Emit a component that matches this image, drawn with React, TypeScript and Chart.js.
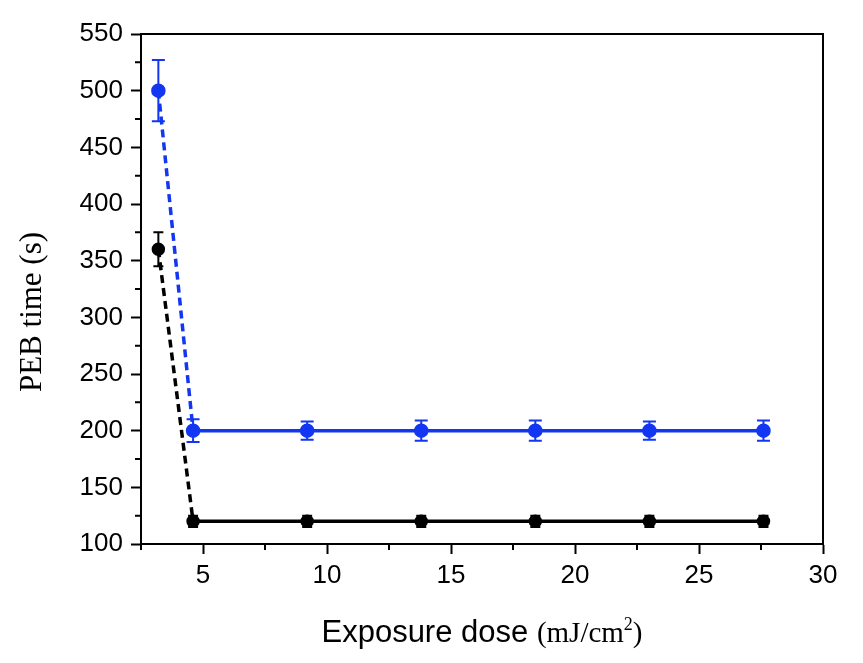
import React, { useEffect, useRef } from "react";
import { Chart, registerables } from "chart.js";

Chart.register(...registerables);

const doses = [3.2, 4.6, 9.2, 13.8, 18.4, 23.0, 27.6];
const blueTimes = [500, 200, 200, 200, 200, 200, 200];
const blueErrors = [27, 10, 8, 9, 9, 8, 9];
const blackTimes = [360, 120, 120, 120, 120, 120, 120];
const blackErrors = [15, 5, 5, 5, 5, 5, 5];
const xMajorTicks = [5, 10, 15, 20, 25, 30];
const xMinorTicks = [2.5, 7.5, 12.5, 17.5, 22.5, 27.5];
const yMajorTicks = [100, 150, 200, 250, 300, 350, 400, 450, 500, 550];
const yMinorTicks = [125, 175, 225, 275, 325, 375, 425, 475, 525];

const BLUE = "#1236F2";
const BLACK = "#000000";

const errorBarPlugin = {
  id: "errorBars",
  afterDatasetsDraw(chart: any) {
    const ctx = chart.ctx;
    const x = chart.scales.x;
    const y = chart.scales.y;
    chart.data.datasets.forEach((ds: any) => {
      const errs: number[] = ds.errors;
      ctx.save();
      ctx.strokeStyle = ds.borderColor;
      ctx.lineWidth = 2;
      ds.data.forEach((p: any, i: number) => {
        const px = x.getPixelForValue(p.x);
        const top = y.getPixelForValue(p.y + errs[i]);
        const bot = y.getPixelForValue(p.y - errs[i]);
        const cap = ds.capHalf;
        ctx.beginPath();
        ctx.moveTo(px, top);
        ctx.lineTo(px, bot);
        ctx.moveTo(px - cap, top);
        ctx.lineTo(px + cap, top);
        ctx.moveTo(px - cap, bot);
        ctx.lineTo(px + cap, bot);
        ctx.stroke();
      });
      ctx.restore();
    });
  },
};

const framePlugin = {
  id: "frameAndTitles",
  afterDraw(chart: any) {
    const ctx = chart.ctx;
    const a = chart.chartArea;
    const x = chart.scales.x;
    const y = chart.scales.y;
    ctx.save();
    ctx.strokeStyle = "#000";
    ctx.lineWidth = 2;
    ctx.beginPath();
    ctx.moveTo(a.left, a.top);
    ctx.lineTo(a.right, a.top);
    ctx.lineTo(a.right, a.bottom);
    ctx.stroke();
    // minor ticks
    ctx.beginPath();
    xMinorTicks.forEach((v) => {
      const px = x.getPixelForValue(v);
      ctx.moveTo(px, a.bottom);
      ctx.lineTo(px, a.bottom + 6);
    });
    yMinorTicks.forEach((v) => {
      const py = y.getPixelForValue(v);
      ctx.moveTo(a.left, py);
      ctx.lineTo(a.left - 6, py);
    });
    ctx.stroke();

    // Y title
    ctx.fillStyle = "#000";
    ctx.save();
    ctx.translate(33, 312);
    ctx.rotate(-Math.PI / 2);
    ctx.font = '31px "Liberation Serif"';
    ctx.textAlign = "center";
    ctx.textBaseline = "middle";
    ctx.fillText("PEB time (s)", 0, 0);
    ctx.restore();

    // X title
    const sansFont = '31px "Liberation Sans"';
    const serifFont = '29px "Liberation Serif"';
    const supFont = '18px "Liberation Serif"';
    const p1 = "Exposure dose ";
    const p2 = "(mJ/cm";
    const p3 = "2";
    const p4 = ")";
    ctx.font = sansFont;
    const w1 = ctx.measureText(p1).width;
    ctx.font = serifFont;
    const w2 = ctx.measureText(p2).width;
    const w4 = ctx.measureText(p4).width;
    ctx.font = supFont;
    const w3 = ctx.measureText(p3).width;
    const total = w1 + w2 + w3 + w4;
    let cx = (a.left + a.right) / 2 - total / 2;
    const base = 642;
    ctx.textAlign = "left";
    ctx.textBaseline = "alphabetic";
    ctx.font = sansFont;
    ctx.fillText(p1, cx, base);
    cx += w1;
    ctx.font = serifFont;
    ctx.fillText(p2, cx, base);
    cx += w2;
    ctx.font = supFont;
    ctx.fillText(p3, cx, base - 12);
    cx += w3;
    ctx.font = serifFont;
    ctx.fillText(p4, cx, base);
    ctx.restore();
  },
};

export default function App() {
  const ref = useRef<HTMLCanvasElement | null>(null);
  useEffect(() => {
    if (!ref.current) return;
    const dash = (ctx: any) => (ctx.p0DataIndex === 0 ? [8, 5] : undefined);
    const chart = new Chart(ref.current, {
      type: "line",
      data: {
        datasets: [
          {
            label: "blue",
            data: doses.map((d, i) => ({ x: d, y: blueTimes[i] })),
            errors: blueErrors,
            capHalf: 6.5,
            borderColor: BLUE,
            backgroundColor: BLUE,
            pointBackgroundColor: BLUE,
            pointBorderColor: BLUE,
            borderWidth: 3.5,
            pointRadius: 5.5,
            segment: { borderDash: dash },
          } as any,
          {
            label: "black",
            data: doses.map((d, i) => ({ x: d, y: blackTimes[i] })),
            errors: blackErrors,
            capHalf: 5,
            borderColor: BLACK,
            backgroundColor: BLACK,
            pointBackgroundColor: BLACK,
            pointBorderColor: BLACK,
            borderWidth: 3.5,
            pointRadius: 5,
            segment: { borderDash: dash },
          } as any,
        ],
      },
      options: {
        animation: false,
        responsive: false,
        layout: { padding: { top: 34, right: 40, left: 0, bottom: 0 } },
        plugins: { legend: { display: false }, tooltip: { enabled: false } },
        scales: {
          x: {
            type: "linear",
            min: 2.5,
            max: 30,
            afterBuildTicks: (s: any) => {
              s.ticks = xMajorTicks.map((v) => ({ value: v }));
            },
            afterFit: (s: any) => {
              s.height = 119;
            },
            border: { color: "#000", width: 2 },
            grid: {
              drawOnChartArea: false,
              drawTicks: true,
              tickLength: 10,
              tickColor: "#000",
              tickWidth: 2,
            },
            ticks: {
              color: "#000",
              padding: 6,
              maxRotation: 0,
              font: { family: '"Liberation Sans"', size: 26 },
            },
          },
          y: {
            type: "linear",
            min: 100,
            max: 550,
            afterBuildTicks: (s: any) => {
              s.ticks = yMajorTicks.map((v) => ({ value: v }));
            },
            afterFit: (s: any) => {
              s.width = 141;
            },
            border: { color: "#000", width: 2 },
            grid: {
              drawOnChartArea: false,
              drawTicks: true,
              tickLength: 10,
              tickColor: "#000",
              tickWidth: 2,
            },
            ticks: {
              color: "#000",
              padding: 8,
              font: { family: '"Liberation Sans"', size: 26 },
            },
          },
        },
      } as any,
      plugins: [errorBarPlugin, framePlugin],
    });
    return () => chart.destroy();
  }, []);
  return (
    <div style={{ position: "fixed", left: 0, top: 0, width: 863, height: 663, background: "#fff" }}>
      <canvas ref={ref} width={863} height={663} />
    </div>
  );
}
